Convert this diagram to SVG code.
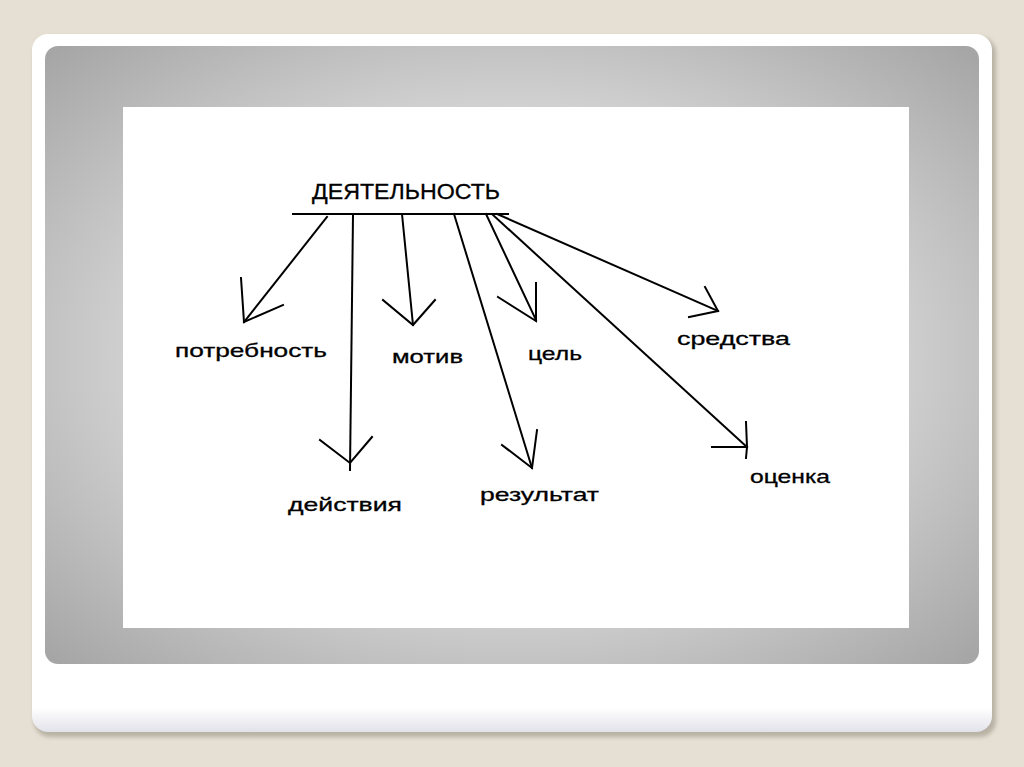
<svg xmlns="http://www.w3.org/2000/svg" width="1024" height="767" viewBox="0 0 1024 767">
<defs>
<radialGradient id="panelGrad" cx="0.5" cy="0.5" r="0.72">
<stop offset="0" stop-color="#f2f2f2"/>
<stop offset="0.55" stop-color="#d2d2d2"/>
<stop offset="1" stop-color="#a2a2a2"/>
</radialGradient>
<linearGradient id="cardBottom" x1="0" y1="0" x2="0" y2="1">
<stop offset="0" stop-color="#ffffff"/>
<stop offset="0.965" stop-color="#ffffff"/>
<stop offset="1" stop-color="#e2e2ea"/>
</linearGradient>
<filter id="shadow" x="-5%" y="-5%" width="110%" height="110%">
<feGaussianBlur stdDeviation="2"/>
</filter>
</defs>
<style>
.ln{stroke:#000;stroke-width:2;fill:none;stroke-linecap:square}
.lbl{font-family:"Liberation Sans",Arial,sans-serif;font-size:19px;fill:#000;stroke:#000;stroke-width:0.3}
.ttl{font-family:"Liberation Sans",Arial,sans-serif;font-size:22px;fill:#000;stroke:#000;stroke-width:0.3}
</style>
<rect x="0" y="0" width="1024" height="767" fill="#e6e0d4"/>
<rect x="34" y="37" width="962" height="700" rx="16" fill="#b8b2a4" filter="url(#shadow)"/>
<rect x="32" y="34" width="960" height="698" rx="16" fill="url(#cardBottom)"/>
<rect x="45" y="46" width="934" height="618" rx="13" fill="url(#panelGrad)"/>
<rect x="123" y="107" width="786" height="521" fill="#ffffff"/>

<g id="title">
<text class="ttl" x="312" y="199" textLength="188" lengthAdjust="spacingAndGlyphs">ДЕЯТЕЛЬНОСТЬ</text>
<line class="ln" x1="293" y1="214" x2="508" y2="214"/>
</g>

<g id="connectors">
<line class="ln" x1="327" y1="217" x2="244" y2="322"/>
<polyline class="ln" points="241,278 244,322 283,305"/>
<line class="ln" x1="353" y1="215" x2="350" y2="470"/>
<polyline class="ln" points="320,440 350,463 372,437"/>
<line class="ln" x1="402" y1="214" x2="413" y2="325"/>
<polyline class="ln" points="383,300 413,325 435,300"/>
<line class="ln" x1="454" y1="214" x2="532" y2="468"/>
<polyline class="ln" points="502,445 532,468 537,430"/>
<line class="ln" x1="486" y1="214" x2="536" y2="320"/>
<polyline class="ln" points="498,297 536,321 536,283"/>
<line class="ln" x1="493" y1="215" x2="747" y2="447" stroke-width="1.6"/>
<polyline class="ln" points="712,447 747,447 746,458"/>
<line class="ln" x1="746" y1="422" x2="747" y2="447"/>
<line class="ln" x1="497" y1="214" x2="718" y2="311"/>
<polyline class="ln" points="705,287 718,311 689,317"/>
</g>

<g id="n-potrebnost"><text class="lbl" x="175" y="357" textLength="152" lengthAdjust="spacingAndGlyphs">потребность</text></g>
<g id="n-deystviya"><text class="lbl" x="288" y="511" textLength="114" lengthAdjust="spacingAndGlyphs">действия</text></g>
<g id="n-motiv"><text class="lbl" x="392" y="363" textLength="71" lengthAdjust="spacingAndGlyphs">мотив</text></g>
<g id="n-rezultat"><text class="lbl" x="480" y="501" textLength="119" lengthAdjust="spacingAndGlyphs">результат</text></g>
<g id="n-tsel"><text class="lbl" x="528" y="360" textLength="54" lengthAdjust="spacingAndGlyphs">цель</text></g>
<g id="n-sredstva"><text class="lbl" x="677" y="345" textLength="113" lengthAdjust="spacingAndGlyphs">средства</text></g>
<g id="n-otsenka"><text class="lbl" x="750" y="483" textLength="80" lengthAdjust="spacingAndGlyphs">оценка</text></g>
</svg>
